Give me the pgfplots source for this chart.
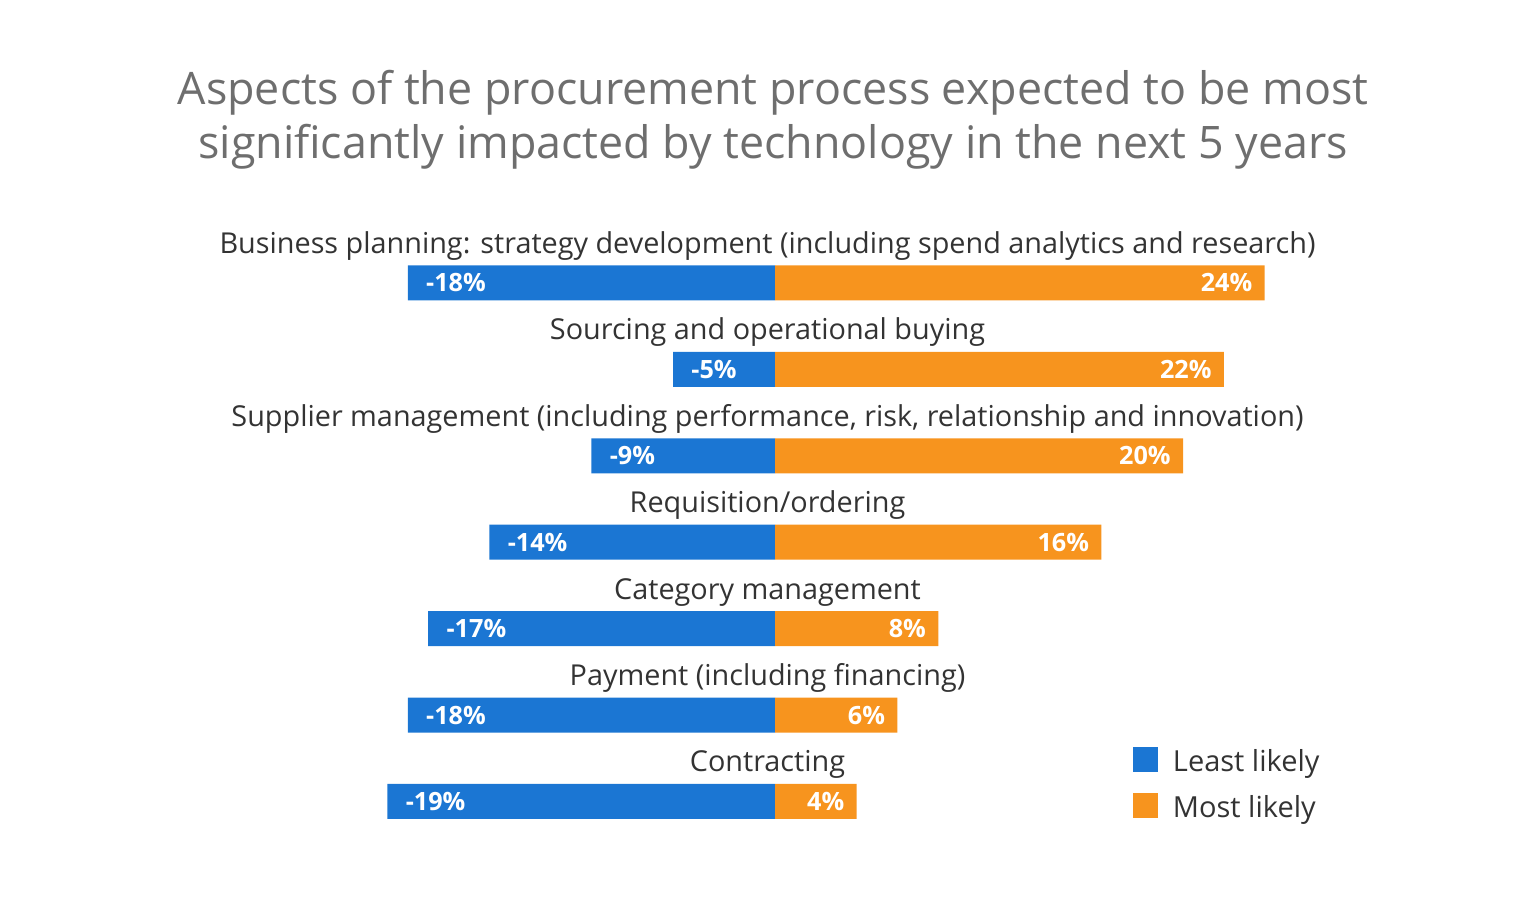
\documentclass[border=0pt]{standalone}
\usepackage{fontspec}
\setmainfont{Open Sans}
\usepackage{pgfplots}
\usepackage{pgfplotstable}
\pgfplotsset{compat=1.18}

\definecolor{leastblue}{HTML}{1B76D3}
\definecolor{mostorange}{HTML}{F7941E}
\definecolor{titlegray}{HTML}{6E6E6E}
\definecolor{labelgray}{HTML}{333333}

% share of respondents: least likely (negative) / most likely (positive)
\pgfplotstableread{
row least most
0 -18 24
1 -5 22
2 -9 20
3 -14 16
4 -17 8
5 -18 6
6 -19 4
}\impacttable

\begin{document}
\begin{tikzpicture}
\begin{axis}[
  scale only axis,
  width=768pt, height=461.5pt,
  xmin=-37.99, xmax=37.30,
  ymin=-7.407, ymax=3.275,
  hide axis, clip=false,
  xbar, bar width=17.5pt,
  nodes near coords={\pgfmathprintnumber[assume math mode=true]{\pgfplotspointmeta}\%},
  point meta=x,
  legend style={at={(rel axis cs:0.7376,0.1907)}, anchor=north west,
    draw=none, fill=none, inner sep=0pt, outer sep=0pt,
    font=\fontsize{14.5}{17}\selectfont, text=labelgray, row sep=9.5pt,
    nodes={inner sep=0pt}},
  legend cell align=left,
]
\path (rel axis cs:0,0) rectangle (rel axis cs:1,1);

\addplot[fill=leastblue, draw=none, bar shift=0pt,
  every node near coord/.append style={anchor=west, xshift=9pt, text=white,
    font=\bfseries\fontsize{12.6}{15}\selectfont, inner sep=0pt},
  legend image code/.code={\fill[leastblue] (0pt,-5.25pt) rectangle (12.5pt,7.25pt); \path (20pt,0pt);}]
  table[x=least, y expr=-\thisrow{row}] {\impacttable};
\addlegendentry{Least likely}

\addplot[fill=mostorange, draw=none, bar shift=0pt,
  every node near coord/.append style={anchor=east, xshift=-6pt, text=white,
    font=\bfseries\fontsize{12.6}{15}\selectfont, inner sep=0pt},
  legend image code/.code={\fill[mostorange] (0pt,-5.25pt) rectangle (12.5pt,7.25pt); \path (20pt,0pt);}]
  table[x=most, y expr=-\thisrow{row}] {\impacttable};
\addlegendentry{Most likely}

% category names above each bar
\begin{scope}[every node/.style={anchor=base, text=labelgray, font=\fontsize{14.4}{17}\selectfont, inner sep=0pt}]
\node at (axis cs:-0.37, 0.341) {Business planning: strategy development (including spend analytics and research)};
\node at (axis cs:-0.37,-0.659) {Sourcing and operational buying};
\node at (axis cs:-0.37,-1.659) {Supplier management (including performance, risk, relationship and innovation)};
\node at (axis cs:-0.37,-2.659) {Requisition/ordering};
\node at (axis cs:-0.37,-3.659) {Category management};
\node at (axis cs:-0.37,-4.659) {Payment (including financing)};
\node at (axis cs:-0.37,-5.659) {Contracting};
\end{scope}

% title
\begin{scope}[every node/.style={anchor=base, text=titlegray, font=\fontsize{22.4}{27}\selectfont, inner sep=0pt}]
\node at (rel axis cs:0.5033,0.8873) {Aspects of the procurement process expected to be most};
\node at (rel axis cs:0.5033,0.8288) {significantly impacted by technology in the next 5 years};
\end{scope}
\end{axis}
\end{tikzpicture}
\end{document}
